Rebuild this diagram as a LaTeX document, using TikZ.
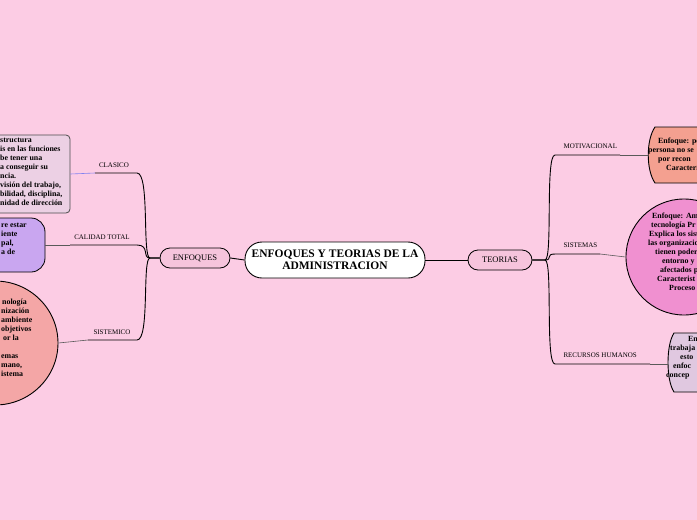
\documentclass[tikz,border=0pt]{standalone}
\usepackage{fontspec}
\setmainfont{Liberation Serif}
\usetikzlibrary{shapes.geometric}
\begin{document}
\begin{tikzpicture}[x=1pt,y=-1pt,
  lab/.style={font=\fontsize{7}{7.5}\selectfont, anchor=south},
  txt/.style={font=\bfseries\fontsize{7.9}{9}\selectfont, align=left, inner sep=0, anchor=north west},
  edge/.style={draw=black, line width=0.9pt},
  thin/.style={draw=gray!70!black, line width=0.6pt},
  pill/.style={draw=black, line width=0.8pt, rounded corners=10pt}]
\definecolor{bg}{HTML}{FCCCE4}
\definecolor{pillc}{HTML}{F6C4DC}
\fill[bg] (0,0) rectangle (697,520);
\clip (0,0) rectangle (697,520);
% central
\node[draw=black, line width=0.9pt, fill=white, rounded corners=17pt, minimum width=180pt, minimum height=36pt, font=\bfseries\fontsize{11.5}{12}\selectfont, align=center] (c) at (335,260) {ENFOQUES Y TEORIAS DE LA\\ADMINISTRACION};
\node[pill, fill=pillc, minimum width=70pt, minimum height=20pt, font=\fontsize{8.5}{8.5}\selectfont] (enf) at (195,258) {ENFOQUES};
\node[pill, fill=pillc, minimum width=64pt, minimum height=20pt, font=\fontsize{8.5}{8.5}\selectfont] (teo) at (500,260) {TEORIAS};
\draw[edge] (c.west) -- (enf.east);
\draw[edge] (c.east) -- (teo.west);
% left branches
\coordinate (lc) at (137,173); \coordinate (lq) at (137,245); \coordinate (ls) at (137,340);
\coordinate (lc0) at (95,173); \coordinate (lq0) at (70,245); \coordinate (ls0) at (88,340);
\draw[edge] (enf.west) -- (150,258) .. controls (142,258) and (150,173) .. (lc) -- (lc0);
\draw[edge] (enf.west) -- (150,258) .. controls (142,258) and (150,245) .. (lq) -- (lq0);
\draw[edge] (enf.west) -- (150,258) .. controls (142,258) and (150,340) .. (ls) -- (ls0);
\node[lab] (lcl) at (114,171) {CLASICO};
\node[lab] (lql) at (102,243) {CALIDAD TOTAL};
\node[lab] (lsl) at (112,338) {SISTEMICO};
% left boxes
\node[draw=black!70, line width=0.8pt, fill={rgb,255:red,236;green,208;blue,228}, rounded corners=4pt, minimum width=160pt, minimum height=78pt] (b1) at (-10,174) {};
\node[txt] at (0,138) {structura\\is en las funciones\\be tener una\\a conseguir su\\ncia.\\visión del trabajo,\\bilidad, disciplina,\\nidad de dirección};
\draw[draw={rgb,255:red,130;green,130;blue,240}, line width=0.6pt] (b1.east) -- (lc0);
\node[draw=black, line width=0.8pt, fill={rgb,255:red,201;green,166;blue,240}, rounded corners=14pt, minimum width=110pt, minimum height=54pt] (b2) at (-10,245) {};
\node[txt] at (1,223) {re estar\\iente\\pal,\\a de};
\draw[thin] (b2.east) -- (lq0);
\node[draw=black, line width=0.9pt, fill={rgb,255:red,244;green,166;blue,166}, ellipse, minimum width=126pt, minimum height=124pt, inner sep=0] (b3) at (-5,343) {};
\node[txt] at (1,299) {\hspace*{1pt}nología\\nización\\ambiente\\objetivos\\\hspace*{2pt}or la\\\mbox{}\\emas\\mano,\\istema};
\draw[thin] (b3.east) -- (ls0);
% right branches
\coordinate (rm) at (555,155); \coordinate (rs) at (555,254); \coordinate (rr) at (555,364);
\coordinate (rm0) at (620,155); \coordinate (rs0) at (600,254); \coordinate (rr0) at (650,364);
\draw[edge] (teo.east) -- (545,260) .. controls (553,260) and (545,155) .. (rm) -- (rm0);
\draw[edge] (teo.east) -- (545,260) .. controls (553,260) and (545,254) .. (rs) -- (rs0);
\draw[edge] (teo.east) -- (545,260) .. controls (553,260) and (545,364) .. (rr) -- (rr0);
\node[lab, anchor=south west] (rml) at (560,152) {MOTIVACIONAL};
\node[lab, anchor=south west] (rsl) at (560,251) {SISTEMAS};
\node[lab, anchor=south west] (rrl) at (560,361) {RECURSOS HUMANOS};
% right boxes
\fill[fill={rgb,255:red,244;green,160;blue,144}] (655,127) .. controls (646,140) and (646,170) .. (655,183) -- (710,183) -- (710,127) -- cycle;
\draw[line width=0.9pt] (710,127) -- (655,127) .. controls (646,140) and (646,170) .. (655,183) -- (710,183);
\coordinate (r1) at (648,155);
\draw[thin] (rm0) -- (r1);
\node[txt] (r1t) at (648,138) {\hspace*{10pt}Enfoque: pe\\persona no se\\\hspace*{10pt}por recon\\\hspace*{18pt}Caracterí};
\node[draw=black, line width=0.9pt, fill={rgb,255:red,240;green,144;blue,208}, circle, minimum size=116pt, inner sep=0] (r2) at (684,257) {};
\draw[thin] (rs0) -- (r2.west);
\node[txt] at (648,213) {\hspace*{4pt}Enfoque: Amb\\\hspace*{3pt}tecnología Pr\\\hspace*{1pt}Explica los sist\\las organizacio\\\hspace*{7pt}tienen poder\\\hspace*{14pt}entorno y\\\hspace*{12pt}afectados p\\\hspace*{9pt}Caracterist\\\hspace*{21pt}Proceso};
\fill[fill={rgb,255:red,224;green,200;blue,224}] (674,333) .. controls (666,345) and (666,380) .. (674,392) -- (710,392) -- (710,333) -- cycle;
\draw[line width=0.9pt] (710,333) -- (674,333) .. controls (666,345) and (666,380) .. (674,392) -- (710,392);
\draw[thin] (rr0) -- (668,364);
\node[txt] at (670,336) {\hspace*{18pt}En\\trabaja\\\hspace*{10pt}esto\\\hspace*{3pt}enfoc\\\hspace*{-4pt}concep};
\end{tikzpicture}
\end{document}
